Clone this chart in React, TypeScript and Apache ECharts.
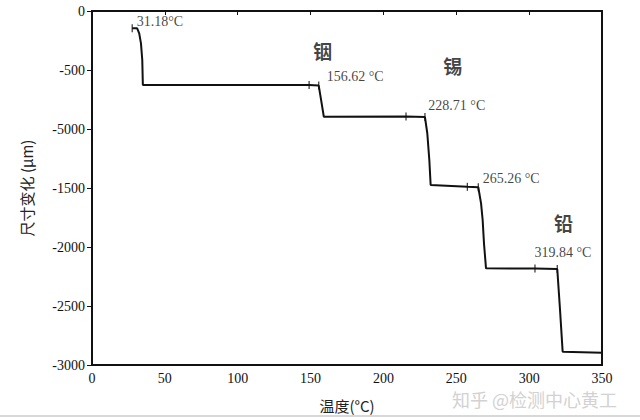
import React, { useEffect, useRef } from "react";
import * as echarts from "echarts";

const xTicks = [0, 50, 100, 150, 200, 250, 300, 350];
const yTickLabels = ["0", "-500", "-5000", "-1500", "-2000", "-2500", "-3000"];

// measured dimensional change curve (temperature °C, change μm)
const curve: [number, number][] = [
  [27.6, -147], [31.0, -147], [32.4, -189], [33.6, -274], [34.5, -415], [34.9, -627],
  [149, -628], [155.6, -632], [157.3, -760], [159.1, -896],
  [215.5, -895], [228.5, -899], [230.1, -1036], [231.5, -1263], [232.4, -1475],
  [257.6, -1490], [265.1, -1494], [267.0, -1630], [268.1, -1771], [269.0, -1968], [270.4, -2181],
  [304.0, -2183], [319.3, -2186], [321.2, -2534], [323.0, -2887], [350, -2896],
];

// small vertical marks on the curve
const marks: [number, number][] = [
  [27.6, -147], [149, -628], [155.6, -632], [215.5, -895], [228.5, -899],
  [257.6, -1490], [265.1, -1494], [304.0, -2183], [319.3, -2186],
];

const tempLabels = ["31.18°C", "156.62 °C", "228.71 °C", "265.26 °C", "319.84 °C"];
const tempLabelPos: [number, number][] = [
  [30.7, -93], [161.1, -557], [230.8, -805], [268.1, -1418], [303.6, -2048],
];

const metals = ["铟", "锡", "铅"];
const metalPos: [number, number][] = [
  [158.3, -331], [247.6, -464], [323.5, -1794],
];

export default function App() {
  const ref = useRef<HTMLDivElement>(null);
  useEffect(() => {
    if (!ref.current) return;
    const chart = echarts.init(ref.current, null, { renderer: "svg" });
    const serif = "Liberation Serif";
    const cjk = "Noto Sans CJK SC";
    chart.setOption({
      animation: false,
      backgroundColor: "#ffffff",
      textStyle: { fontFamily: serif },
      grid: {
        left: 92, right: 38, top: 11, bottom: 55,
        show: true, borderColor: "#111", borderWidth: 2,
      },
      xAxis: {
        type: "value", min: xTicks[0], max: xTicks[xTicks.length - 1], interval: 50,
        axisLine: { show: true, lineStyle: { color: "#111", width: 2 } },
        axisTick: { show: true, length: 4, lineStyle: { color: "#111" } },
        splitLine: { show: false },
        axisLabel: { color: "#111", fontFamily: serif, fontSize: 14, margin: 6 },
        name: "温度(°C)", nameLocation: "middle", nameGap: 33,
        nameTextStyle: { color: "#222", fontFamily: cjk, fontSize: 15 },
      },
      yAxis: {
        type: "value", min: -3000, max: 0, interval: 500,
        axisLine: { show: true, lineStyle: { color: "#111", width: 2 } },
        axisTick: { show: true, length: 5, lineStyle: { color: "#111" } },
        splitLine: { show: false },
        axisLabel: {
          color: "#111", fontFamily: serif, fontSize: 14, margin: 7,
          formatter: (v: number) => yTickLabels[Math.round(-v / 500)] ?? String(v),
        },
        name: "尺寸变化 (μm)", nameLocation: "middle", nameGap: 58,
        nameTextStyle: { color: "#222", fontFamily: cjk, fontSize: 15 },
      },
      series: [
        {
          type: "line", data: curve, showSymbol: false, symbol: "none",
          lineStyle: { color: "#111", width: 2 }, z: 3,
        },
        {
          type: "scatter", data: marks, symbol: "rect", symbolSize: [1.3, 8],
          itemStyle: { color: "#111" }, z: 4,
        },
        {
          type: "scatter", symbolSize: 0,
          data: tempLabels.map((t, i) => ({ name: t, value: tempLabelPos[i] })),
          label: {
            show: true, position: "right", distance: 0, formatter: "{b}",
            color: "#111", fontFamily: serif, fontSize: 14,
          },
        },
        {
          type: "scatter", symbolSize: 0,
          data: metals.map((t, i) => ({ name: t, value: metalPos[i] })),
          label: {
            show: true, position: "inside", formatter: "{b}",
            color: "#111", fontFamily: cjk, fontSize: 19, fontWeight: "bold",
          },
        },
      ],
      graphic: [
        {
          type: "text", left: 452, top: 390,
          style: { text: "知乎 @检测中心黄工", fill: "#d2d2d2", font: "18px 'Noto Sans CJK SC'" },
        },
        {
          type: "line", shape: { x1: 0, y1: 416, x2: 640, y2: 416 },
          style: { stroke: "#d8d8d8", lineWidth: 2 },
        },
      ],
    });
    return () => chart.dispose();
  }, []);
  return (
    <div
      ref={ref}
      style={{ position: "fixed", left: 0, top: 0, width: 640, height: 420 }}
    />
  );
}
